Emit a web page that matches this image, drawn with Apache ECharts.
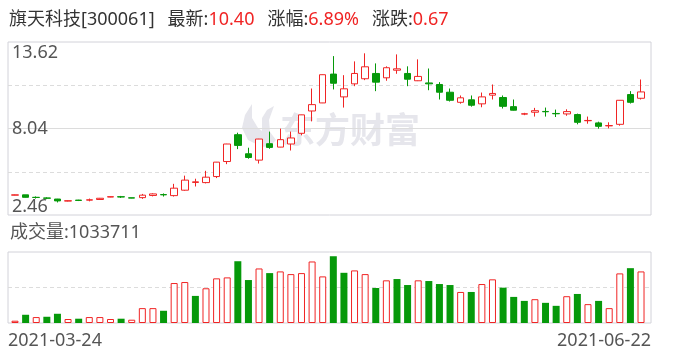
<!DOCTYPE html>
<html><head><meta charset="utf-8">
<script src="https://cdn.jsdelivr.net/npm/echarts@6/dist/echarts.min.js"></script>
<style>html,body{margin:0;padding:0;background:#fff}#c{width:688px;height:360px}</style>
</head><body><div id="c"></div>
<script>
// ---- data ----
const stockName = '旗天科技';
const stockCode = '300061';
const latestPrice = '10.40';
const changePct = '6.89%';
const changeAmt = '0.67';
const latestVolume = '1033711';

const dates = ['2021-03-24','2021-03-25','2021-03-26','2021-03-29','2021-03-30','2021-03-31',
 '2021-04-01','2021-04-02','2021-04-06','2021-04-07','2021-04-08','2021-04-09',
 '2021-04-12','2021-04-13','2021-04-14','2021-04-15','2021-04-16',
 '2021-04-19','2021-04-20','2021-04-21','2021-04-22','2021-04-23',
 '2021-04-26','2021-04-27','2021-04-28','2021-04-29','2021-04-30',
 '2021-05-06','2021-05-07','2021-05-10','2021-05-11','2021-05-12','2021-05-13','2021-05-14',
 '2021-05-17','2021-05-18','2021-05-19','2021-05-20','2021-05-21',
 '2021-05-24','2021-05-25','2021-05-26','2021-05-27','2021-05-28','2021-05-31',
 '2021-06-01','2021-06-02','2021-06-03','2021-06-04',
 '2021-06-07','2021-06-08','2021-06-09','2021-06-10','2021-06-11',
 '2021-06-15','2021-06-16','2021-06-17','2021-06-18','2021-06-21','2021-06-22'];

const opens  = [3.74,3.76,3.60,3.56,3.49,3.36,3.42,3.42,3.46,3.62,3.64,3.57,3.58,3.72,3.78,3.71,4.06,4.56,4.55,4.94,
                5.91,7.64,6.41,6.00,7.06,6.84,7.04,7.73,9.17,9.69,11.55,10.08,10.92,11.25,11.59,11.31,11.80,11.59,11.12,10.98,
                10.88,10.38,9.73,9.89,9.63,10.19,10.04,9.45,8.97,9.09,9.14,9.01,8.98,8.94,8.54,8.40,8.21,8.31,10.23,9.99];
const closes = [3.76,3.60,3.59,3.54,3.37,3.38,3.40,3.44,3.54,3.64,3.62,3.55,3.74,3.82,3.76,4.19,4.71,4.60,4.90,5.87,
                7.04,6.95,6.17,7.36,6.82,7.32,7.43,8.92,9.58,11.51,10.96,10.60,11.59,12.02,11.03,11.96,11.89,11.22,11.40,10.92,
                10.38,9.86,10.02,9.54,10.08,10.30,9.47,9.22,8.99,9.19,9.12,8.99,9.13,8.44,8.56,8.18,8.23,9.86,9.73,10.40];
const lows   = [3.73,3.59,3.52,3.48,3.27,3.34,3.36,3.34,3.45,3.61,3.56,3.54,3.50,3.66,3.65,3.65,4.02,4.30,4.50,4.84,
                5.74,6.71,6.09,5.78,6.73,6.83,6.62,7.60,8.50,9.68,10.56,9.39,10.77,11.16,10.45,11.12,11.57,10.77,11.10,10.51,
                9.91,9.78,9.64,9.45,9.41,9.91,9.33,9.20,8.90,8.81,8.81,8.78,8.86,8.31,8.35,8.03,8.05,8.22,9.65,9.91];
const highs  = [3.78,3.76,3.66,3.60,3.50,3.40,3.44,3.52,3.56,3.65,3.69,3.57,3.82,3.86,3.85,4.47,5.00,4.80,5.31,5.88,
                7.05,7.77,6.80,7.37,7.84,8.03,7.84,8.93,10.62,11.52,12.71,11.48,12.37,12.89,12.24,12.05,12.82,12.05,12.50,11.91,
                11.03,10.62,10.17,10.17,10.36,10.88,10.17,9.91,9.05,9.37,9.39,9.26,9.28,9.00,8.81,8.48,8.44,9.87,10.45,11.20];

const volumes = [46000,165000,119000,125000,185000,80000,86000,119000,119000,80000,86000,66000,298000,298000,245000,
                 801000,821000,543000,696000,895000,914000,1238000,861000,1093000,1000000,1034000,980000,1000000,1233000,934000,
                 1338000,1006000,1054000,980000,702000,855000,881000,761000,855000,841000,781000,761000,622000,622000,781000,
                 875000,708000,523000,443000,477000,404000,344000,537000,582000,378000,443000,298000,994000,1099000,1033711];
// 1 = red (up) volume bar, 0 = green (down)
const volUp = [1,0,1,0,0,1,0,1,1,1,0,1,1,1,0,1,1,0,1,1,1,0,0,1,0,1,1,1,1,1,
               0,0,1,1,0,1,0,0,1,0,0,0,1,0,1,1,0,0,0,1,0,0,1,0,1,0,1,1,0,1];

const priceTicks = [2.46, 5.25, 8.04, 10.83, 13.62];
const volumeMax = 1423000;

// ---- styles ----
const RED = '#f02424';
const GREEN = '#06990a';
const FONT = "'Noto Sans', 'Noto Sans CJK SC', sans-serif";
const BORDER = '#d2d2d9';
const SPLIT = '#dcdcdc';

const chart = echarts.init(document.getElementById('c'), null, {renderer: 'canvas'});

const xCommon = {type: 'value', min: -0.66, max: 59.94, show: false};

chart.setOption({
  animation: false,
  backgroundColor: '#fff',
  grid: [
    {left: 8, right: 37, top: 42, height: 173, show: true, borderColor: BORDER, borderWidth: 1, backgroundColor: 'transparent'},
    {left: 8, right: 37, top: 252, height: 71, show: true, borderColor: BORDER, borderWidth: 1, backgroundColor: 'transparent'}
  ],
  xAxis: [Object.assign({gridIndex: 0}, xCommon), Object.assign({gridIndex: 1}, xCommon)],
  yAxis: [
    {
      gridIndex: 0, type: 'value', min: priceTicks[0], max: priceTicks[4],
      interval: +(priceTicks[2] - priceTicks[0]).toFixed(2),
      axisLine: {show: false}, axisTick: {show: false},
      splitLine: {show: true, showMinLine: false, showMaxLine: false, lineStyle: {color: SPLIT, width: 1, type: 'solid'}},
      axisLabel: {
        inside: true, margin: 4, showMinLabel: true, showMaxLabel: true,
        color: '#555', fontSize: 18, fontFamily: FONT,
        formatter: function (v) {
          const t = v.toFixed(2);
          if (Math.abs(v - priceTicks[4]) < 1e-6) return '{t|' + t + '}';
          if (Math.abs(v - priceTicks[0]) < 1e-6) return '{b|' + t + '}';
          return '{m|' + t + '}';
        },
        rich: {
          t: {padding: [22, 0, 0, 0], color: '#555', fontSize: 18, fontFamily: FONT},
          b: {padding: [0, 0, 17, 0], color: '#555', fontSize: 18, fontFamily: FONT},
          m: {color: '#555', fontSize: 18, fontFamily: FONT}
        }
      },
      z: 3
    },
    {
      gridIndex: 1, type: 'value', min: 0, max: volumeMax, interval: volumeMax / 2,
      axisLine: {show: false}, axisTick: {show: false}, axisLabel: {show: false},
      splitLine: {show: true, showMinLine: false, showMaxLine: false, lineStyle: {color: SPLIT, type: [4, 3]}}
    }
  ],
  graphic: [
    {type: 'polygon', z: 0, silent: true,
     shape: {points: [[262,147],[248,140],[242,128],[245,115],[252,104],[252,118],[258,128],[262,131],[262,118],[267,110],[274,106],[269,120],[270,132],[276,140],[270,146]]},
     style: {fill: '#e6e6ec'}},
    {type: 'text', z: 0, silent: true, x: 350, y: 130,
     style: {text: '东方财富', fill: '#e6e6ec', font: "bold 35px 'Noto Sans CJK SC', sans-serif", align: 'center', verticalAlign: 'middle'}},
    {type: 'text', x: 9, y: 20,
     style: {
       text: '{n|' + stockName + '[' + stockCode + ']}{l|最新:}{v|' + latestPrice + '}{l|涨幅:}{v|' + changePct + '}{l|涨跌:}{v|' + changeAmt + '}',
       verticalAlign: 'middle', font: '18px ' + FONT,
       rich: {
         n: {fill: '#333', fontSize: 18, fontFamily: FONT},
         l: {fill: '#333', fontSize: 18, fontFamily: FONT, padding: [0, 0, 0, 13]},
         v: {fill: RED, fontSize: 18, fontFamily: FONT}
       }
     }},
    {type: 'text', x: 10, y: 233,
     style: {text: '成交量:' + latestVolume, fill: '#555', font: '18px ' + FONT, verticalAlign: 'middle'}},
    {type: 'text', x: 8, y: 341,
     style: {text: dates[0], fill: '#555', font: '18px ' + FONT, verticalAlign: 'middle', align: 'left'}},
    {type: 'text', x: 651, y: 341,
     style: {text: dates[dates.length - 1], fill: '#555', font: '18px ' + FONT, verticalAlign: 'middle', align: 'right'}}
  ],
  series: [
    {
      type: 'candlestick', xAxisIndex: 0, yAxisIndex: 0, barWidth: 7, z: 5,
      data: dates.map((d, i) => [i, opens[i], closes[i], lows[i], highs[i]]),
      encode: {x: 0, y: [1, 2, 3, 4]},
      itemStyle: {color: '#fff', color0: GREEN, borderColor: RED, borderColor0: GREEN, borderWidth: 1},
      markLine: {
        silent: true, symbol: ['none', 'none'], label: {show: false},
        lineStyle: {color: SPLIT, type: [4, 3], width: 1},
        data: [{yAxis: priceTicks[1]}, {yAxis: priceTicks[3]}],
        z: 1
      }
    },
    {
      type: 'bar', xAxisIndex: 1, yAxisIndex: 1, barWidth: 7,
      data: volumes.map((v, i) => ({
        value: [i, v],
        itemStyle: volUp[i] ? {color: '#fff', borderColor: RED, borderWidth: 1} : {color: GREEN}
      }))
    }
  ]
});
</script>
</body></html>
